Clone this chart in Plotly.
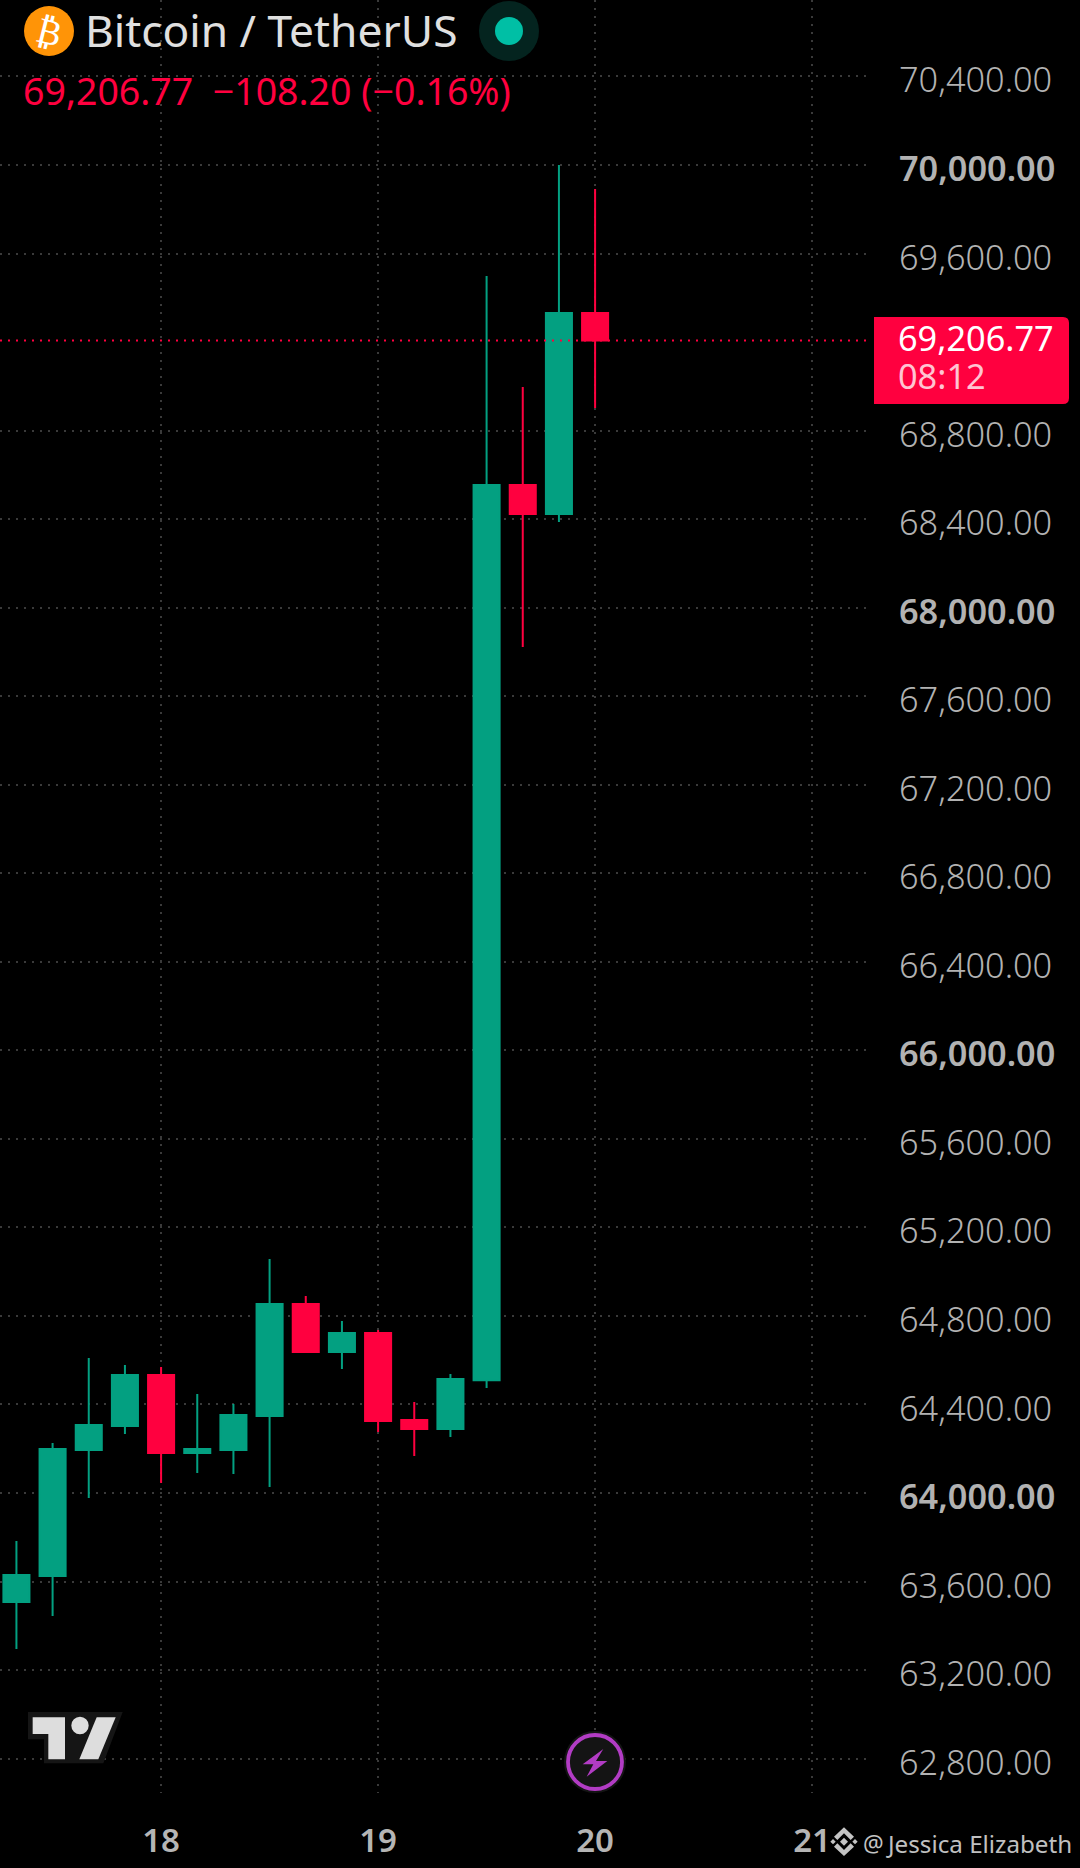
import plotly.graph_objects as go

# 4h BTCUSDT candles
times = ["2024-05-17 08:00", "2024-05-17 12:00", "2024-05-17 16:00", "2024-05-17 20:00",
         "2024-05-18 00:00", "2024-05-18 04:00", "2024-05-18 08:00", "2024-05-18 12:00",
         "2024-05-18 16:00", "2024-05-18 20:00", "2024-05-19 00:00", "2024-05-19 04:00",
         "2024-05-19 08:00", "2024-05-19 12:00", "2024-05-19 16:00", "2024-05-19 20:00",
         "2024-05-20 00:00"]
opens = [63508, 63625, 64194, 64303, 64533, 64181, 64194, 64348, 64854, 64637, 64723, 64330, 64289, 64510, 68554, 68423, 69331]
highs = [63783, 64226, 64610, 64578, 64569, 64447, 64402, 65057, 64890, 64777, 64737, 64411, 64538, 69499, 68997, 70000, 69892]
lows = [63295, 63444, 63977, 64267, 64045, 64090, 64086, 64027, 64637, 64560, 64276, 64167, 64253, 64475, 67822, 68387, 68902]
closes = [63630, 64199, 64307, 64533, 64181, 64199, 64352, 64854, 64637, 64723, 64325, 64289, 64515, 68554, 68423, 69331, 69206.77]

last_price = 69206.77

SEMI = '<span style="font-weight:600">%s</span>'
price_ticks = [62800, 63200, 63600, 64000, 64400, 64800, 65200, 65600, 66000, 66400, 66800, 67200,
               67600, 68000, 68400, 68800, 69600, 70000, 70400]
price_labels = ["62,800.00", "63,200.00", "63,600.00", SEMI % "64,000.00", "64,400.00", "64,800.00",
                "65,200.00", "65,600.00", SEMI % "66,000.00", "66,400.00", "66,800.00", "67,200.00",
                "67,600.00", SEMI % "68,000.00", "68,400.00", "68,800.00", "69,600.00",
                SEMI % "70,000.00", "70,400.00"]
day_ticks = ["2024-05-18", "2024-05-19", "2024-05-20", "2024-05-21"]
day_labels = [SEMI % "18", SEMI % "19", SEMI % "20", SEMI % "21"]

W, H = 1080, 1868
GREEN = "#03A081"
RED = "#FF003F"
FONT = "Noto Sans"


def px(x):
    return x / W


def py(y):
    return 1 - y / H


def path(points, scale_x=1.0, scale_y=1.0, ox=0.0, oy=0.0):
    parts = []
    for i, (x, y) in enumerate(points):
        parts.append(("M" if i == 0 else "L") + f"{px(ox + x * scale_x):.5f},{py(oy + y * scale_y):.5f}")
    return " ".join(parts) + " Z"


def poly(points, color, **kw):
    return dict(type="path", xref="paper", yref="paper", path=path(points, **kw),
                fillcolor=color, line=dict(width=0), layer="above")


def circle(cx, cy, r, color, line_color=None, line_width=0):
    return dict(type="circle", xref="paper", yref="paper",
                x0=px(cx - r), x1=px(cx + r), y0=py(cy + r), y1=py(cy - r),
                fillcolor=color, line=dict(width=line_width, color=line_color or color), layer="above")


def label(x, y, text, size, color, anchor="left", angle=0, family=FONT):
    return dict(xref="paper", yref="paper", x=px(x), y=py(y), text=text, showarrow=False,
                xanchor=anchor, yanchor="middle", textangle=angle,
                font=dict(family=family, size=size, color=color), borderpad=0, borderwidth=0)


fig = go.Figure(go.Candlestick(
    x=times, open=opens, high=highs, low=lows, close=closes,
    increasing=dict(line=dict(color=GREEN, width=2), fillcolor=GREEN),
    decreasing=dict(line=dict(color=RED, width=2), fillcolor=RED),
    whiskerwidth=0, showlegend=False,
))

shapes = [
    # last price line
    dict(type="line", xref="paper", yref="y", x0=0, x1=px(868), y0=last_price, y1=last_price,
         line=dict(color=RED, width=2, dash="2px,6px"), layer="above"),
    # price tag
    dict(type="path", xref="paper", yref="paper", fillcolor=RED, line=dict(width=0), layer="above",
         path=f"M{px(874)},{py(317)} L{px(1063)},{py(317)} Q{px(1069)},{py(317)} {px(1069)},{py(323)} "
              f"L{px(1069)},{py(398)} Q{px(1069)},{py(404)} {px(1063)},{py(404)} L{px(874)},{py(404)} Z"),
    # header icons
    circle(49, 31, 25, "#FF9407"),
    circle(509, 31, 30, "#04241F"),
    circle(509, 31, 14, "#00BFA5"),
    # tradingview logo (zoom coordinates, 3x)
    poly([(24, 36), (308, 36), (250, 190), (72, 190), (72, 118), (24, 118)], "#151515",
         scale_x=1 / 3, scale_y=1 / 3, ox=20, oy=1700),
    poly([(38, 52), (135, 52), (135, 178), (85, 178), (85, 102), (38, 102)], "#DDDDDD",
         scale_x=1 / 3, scale_y=1 / 3, ox=20, oy=1700),
    poly([(230, 52), (287, 52), (235, 178), (178, 178)], "#DDDDDD",
         scale_x=1 / 3, scale_y=1 / 3, ox=20, oy=1700),
    circle(80, 1725.5, 8.7, "#DDDDDD"),
    # lightning badge
    circle(595, 1762, 31, "#141414"),
    circle(595, 1762, 27, "#141414", "#B23CC4", 3.8),
    poly([(130, 72), (68, 118), (100, 118), (80, 155), (142, 108), (108, 108)], "#B23CC4",
         scale_x=1 / 3, scale_y=1 / 3, ox=560, oy=1725),
    # binance logo
    poly([(192, 52), (222, 80), (212, 90), (192, 70), (172, 90), (162, 80)], "#C4C4C4",
         scale_x=1 / 3, scale_y=1 / 3, ox=780, oy=1810),
    poly([(192, 138), (222, 110), (212, 100), (192, 120), (172, 100), (162, 110)], "#C4C4C4",
         scale_x=1 / 3, scale_y=1 / 3, ox=780, oy=1810),
    poly([(192, 83), (204, 95), (192, 107), (180, 95)], "#C4C4C4",
         scale_x=1 / 3, scale_y=1 / 3, ox=780, oy=1810),
    poly([(159, 87), (167, 95), (159, 103), (151, 95)], "#C4C4C4",
         scale_x=1 / 3, scale_y=1 / 3, ox=780, oy=1810),
    poly([(225, 87), (233, 95), (225, 103), (217, 95)], "#C4C4C4",
         scale_x=1 / 3, scale_y=1 / 3, ox=780, oy=1810),
]

annotations = [
    label(49, 31, "₿", 36, "#FFFFFF", anchor="center", angle=14, family="DejaVu Sans"),
    label(85, 30, "Bitcoin / TetherUS", 44.3, "#E0E0E0"),
    label(23, 90, "69,206.77  −108.20 (−0.16%)", 37.5, RED),
    label(898, 337, "69,206.77", 34.3, "#FFFFFF"),
    label(898, 376, "08:12", 34.3, "#FFC4D2"),
    label(863, 1843, "@", 23, "#C4C4C4"),
    label(886, 1843, "Jessica Elizabeth", 24.2, "#C0C0C0"),
]

fig.update_layout(
    width=W, height=H,
    margin=dict(l=0, r=0, t=0, b=0),
    paper_bgcolor="#000000", plot_bgcolor="#000000",
    boxgap=0.28, boxgroupgap=0,
    showlegend=False,
    shapes=shapes, annotations=annotations,
    xaxis=dict(
        domain=[0, px(868)], type="date", rangeslider=dict(visible=False),
        range=["2024-05-17 06:11", "2024-05-21 06:11"],
        tickvals=day_ticks, ticktext=day_labels,
        showgrid=True, gridcolor="#3A3A3A", gridwidth=2, griddash="2px,6px",
        zeroline=False, showline=False, ticks="", ticklabelstandoff=25,
        tickfont=dict(family=FONT, size=33, color="#B5B5B5"),
    ),
    yaxis=dict(
        domain=[py(1793), 1], side="right", range=[62644.7, 70745.5],
        tickvals=price_ticks, ticktext=price_labels,
        showgrid=True, gridcolor="#3A3A3A", gridwidth=2, griddash="2px,6px",
        zeroline=False, showline=False, ticks="", ticklabelstandoff=30, ticklabelshift=4,
        tickfont=dict(family=FONT, size=34.3, color="#B2B2B2", weight=300),
    ),
)

fig.write_html("out.html", config=dict(displayModeBar=False), post_script="document.body.style.margin='0';")
